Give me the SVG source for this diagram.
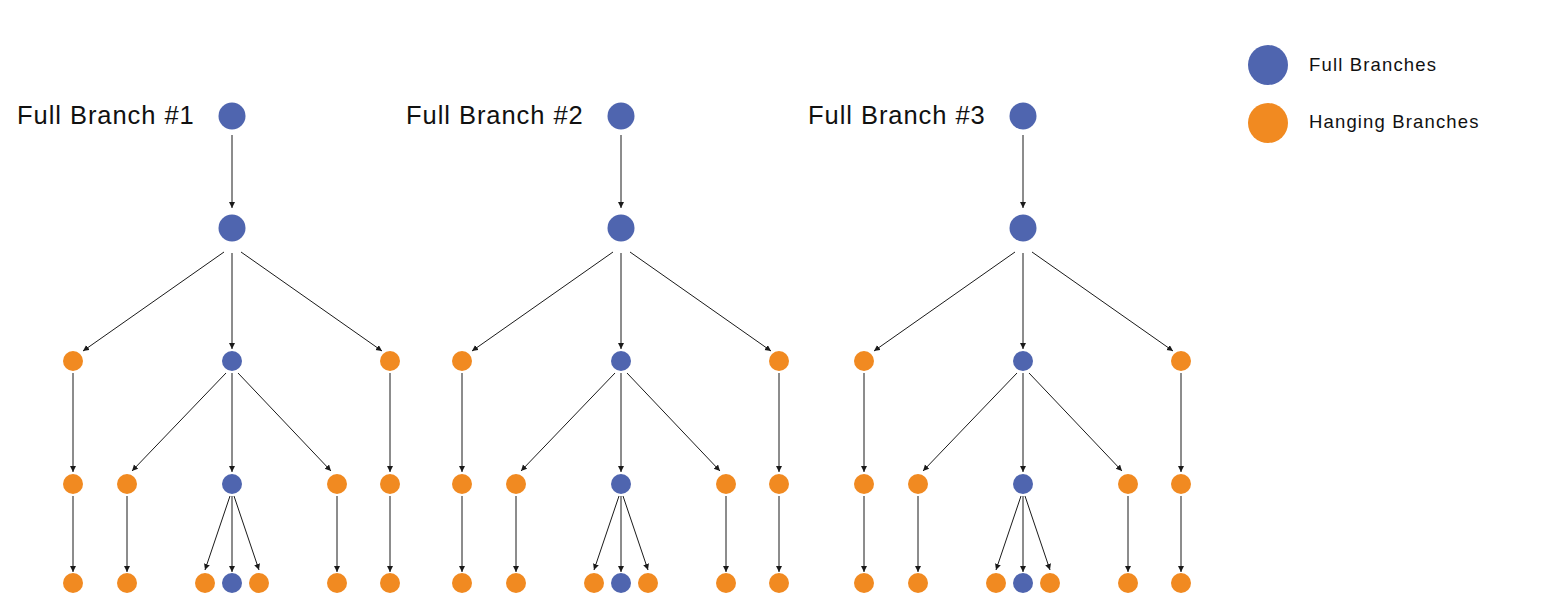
<svg xmlns="http://www.w3.org/2000/svg" xmlns:xlink="http://www.w3.org/1999/xlink" width="1556" height="612" viewBox="0 0 1556 612">
<style>
.full{fill:#4F65AF}
.hang{fill:#F18A21}
.edge{stroke:#1a1a1a;stroke-width:1;fill:none;marker-end:url(#ah)}
.title{font-family:"Liberation Sans",Arial,sans-serif;font-size:25.5px;fill:#111;letter-spacing:0.95px}
.leg{font-family:"Liberation Sans",Arial,sans-serif;font-size:18.5px;fill:#111;letter-spacing:1.15px}
</style>
<defs>
<marker id="ah" markerUnits="userSpaceOnUse" markerWidth="7" markerHeight="7" refX="6" refY="3" orient="auto">
<path d="M0,0 L6,3 L0,6 z" fill="#1a1a1a"/>
</marker>
</defs>
<rect width="1556" height="612" fill="#fff"/>

<g id="tree1">
<text class="title" x="17" y="124">Full Branch #1</text>
<g id="connectors1">
<path class="edge" d="M232,135 L232,208"/>
<path class="edge" d="M224,252 L83,351"/>
<path class="edge" d="M232,253 L232,349"/>
<path class="edge" d="M241,252 L382,351"/>
<path class="edge" d="M73,373 L73,472"/>
<path class="edge" d="M226,373 L132,471"/>
<path class="edge" d="M232,373 L232,472"/>
<path class="edge" d="M238,373 L331,471"/>
<path class="edge" d="M390,373 L390,472"/>
<path class="edge" d="M73,496 L73,572"/>
<path class="edge" d="M127,496 L127,572"/>
<path class="edge" d="M230,496 L205,570"/>
<path class="edge" d="M232,496 L232,572"/>
<path class="edge" d="M234,496 L259,570"/>
<path class="edge" d="M337,496 L337,572"/>
<path class="edge" d="M390,496 L390,572"/>
</g>
<g id="t1-root"><circle class="full" cx="232" cy="116" r="13.5"/></g>
<g id="t1-a"><circle class="full" cx="232" cy="228" r="13.5"/></g>
<g id="t1-b1"><circle class="hang" cx="73" cy="361" r="10"/></g>
<g id="t1-b2"><circle class="full" cx="232" cy="361" r="10"/></g>
<g id="t1-b3"><circle class="hang" cx="390" cy="361" r="10"/></g>
<g id="t1-c1"><circle class="hang" cx="73" cy="484" r="10"/></g>
<g id="t1-c2"><circle class="hang" cx="127" cy="484" r="10"/></g>
<g id="t1-c3"><circle class="full" cx="232" cy="484" r="10"/></g>
<g id="t1-c4"><circle class="hang" cx="337" cy="484" r="10"/></g>
<g id="t1-c5"><circle class="hang" cx="390" cy="484" r="10"/></g>
<g id="t1-d1"><circle class="hang" cx="73" cy="583" r="10"/></g>
<g id="t1-d2"><circle class="hang" cx="127" cy="583" r="10"/></g>
<g id="t1-d3"><circle class="hang" cx="205" cy="583" r="10"/></g>
<g id="t1-d4"><circle class="full" cx="232" cy="583" r="10"/></g>
<g id="t1-d5"><circle class="hang" cx="259" cy="583" r="10"/></g>
<g id="t1-d6"><circle class="hang" cx="337" cy="583" r="10"/></g>
<g id="t1-d7"><circle class="hang" cx="390" cy="583" r="10"/></g>
</g>

<g id="tree2" transform="translate(389,0)">
<text class="title" x="17" y="124">Full Branch #2</text>
<g id="connectors2">
<path class="edge" d="M232,135 L232,208"/>
<path class="edge" d="M224,252 L83,351"/>
<path class="edge" d="M232,253 L232,349"/>
<path class="edge" d="M241,252 L382,351"/>
<path class="edge" d="M73,373 L73,472"/>
<path class="edge" d="M226,373 L132,471"/>
<path class="edge" d="M232,373 L232,472"/>
<path class="edge" d="M238,373 L331,471"/>
<path class="edge" d="M390,373 L390,472"/>
<path class="edge" d="M73,496 L73,572"/>
<path class="edge" d="M127,496 L127,572"/>
<path class="edge" d="M230,496 L205,570"/>
<path class="edge" d="M232,496 L232,572"/>
<path class="edge" d="M234,496 L259,570"/>
<path class="edge" d="M337,496 L337,572"/>
<path class="edge" d="M390,496 L390,572"/>
</g>
<g id="t2-root"><circle class="full" cx="232" cy="116" r="13.5"/></g>
<g id="t2-a"><circle class="full" cx="232" cy="228" r="13.5"/></g>
<g id="t2-b1"><circle class="hang" cx="73" cy="361" r="10"/></g>
<g id="t2-b2"><circle class="full" cx="232" cy="361" r="10"/></g>
<g id="t2-b3"><circle class="hang" cx="390" cy="361" r="10"/></g>
<g id="t2-c1"><circle class="hang" cx="73" cy="484" r="10"/></g>
<g id="t2-c2"><circle class="hang" cx="127" cy="484" r="10"/></g>
<g id="t2-c3"><circle class="full" cx="232" cy="484" r="10"/></g>
<g id="t2-c4"><circle class="hang" cx="337" cy="484" r="10"/></g>
<g id="t2-c5"><circle class="hang" cx="390" cy="484" r="10"/></g>
<g id="t2-d1"><circle class="hang" cx="73" cy="583" r="10"/></g>
<g id="t2-d2"><circle class="hang" cx="127" cy="583" r="10"/></g>
<g id="t2-d3"><circle class="hang" cx="205" cy="583" r="10"/></g>
<g id="t2-d4"><circle class="full" cx="232" cy="583" r="10"/></g>
<g id="t2-d5"><circle class="hang" cx="259" cy="583" r="10"/></g>
<g id="t2-d6"><circle class="hang" cx="337" cy="583" r="10"/></g>
<g id="t2-d7"><circle class="hang" cx="390" cy="583" r="10"/></g>
</g>

<g id="tree3" transform="translate(791,0)">
<text class="title" x="17" y="124">Full Branch #3</text>
<g id="connectors3">
<path class="edge" d="M232,135 L232,208"/>
<path class="edge" d="M224,252 L83,351"/>
<path class="edge" d="M232,253 L232,349"/>
<path class="edge" d="M241,252 L382,351"/>
<path class="edge" d="M73,373 L73,472"/>
<path class="edge" d="M226,373 L132,471"/>
<path class="edge" d="M232,373 L232,472"/>
<path class="edge" d="M238,373 L331,471"/>
<path class="edge" d="M390,373 L390,472"/>
<path class="edge" d="M73,496 L73,572"/>
<path class="edge" d="M127,496 L127,572"/>
<path class="edge" d="M230,496 L205,570"/>
<path class="edge" d="M232,496 L232,572"/>
<path class="edge" d="M234,496 L259,570"/>
<path class="edge" d="M337,496 L337,572"/>
<path class="edge" d="M390,496 L390,572"/>
</g>
<g id="t3-root"><circle class="full" cx="232" cy="116" r="13.5"/></g>
<g id="t3-a"><circle class="full" cx="232" cy="228" r="13.5"/></g>
<g id="t3-b1"><circle class="hang" cx="73" cy="361" r="10"/></g>
<g id="t3-b2"><circle class="full" cx="232" cy="361" r="10"/></g>
<g id="t3-b3"><circle class="hang" cx="390" cy="361" r="10"/></g>
<g id="t3-c1"><circle class="hang" cx="73" cy="484" r="10"/></g>
<g id="t3-c2"><circle class="hang" cx="127" cy="484" r="10"/></g>
<g id="t3-c3"><circle class="full" cx="232" cy="484" r="10"/></g>
<g id="t3-c4"><circle class="hang" cx="337" cy="484" r="10"/></g>
<g id="t3-c5"><circle class="hang" cx="390" cy="484" r="10"/></g>
<g id="t3-d1"><circle class="hang" cx="73" cy="583" r="10"/></g>
<g id="t3-d2"><circle class="hang" cx="127" cy="583" r="10"/></g>
<g id="t3-d3"><circle class="hang" cx="205" cy="583" r="10"/></g>
<g id="t3-d4"><circle class="full" cx="232" cy="583" r="10"/></g>
<g id="t3-d5"><circle class="hang" cx="259" cy="583" r="10"/></g>
<g id="t3-d6"><circle class="hang" cx="337" cy="583" r="10"/></g>
<g id="t3-d7"><circle class="hang" cx="390" cy="583" r="10"/></g>
</g>

<g id="legend">
<g id="legend-full"><circle class="full" cx="1268" cy="65" r="20"/><text class="leg" x="1309" y="71">Full Branches</text></g>
<g id="legend-hanging"><circle class="hang" cx="1268" cy="123" r="20"/><text class="leg" x="1309" y="128">Hanging Branches</text></g>
</g>
</svg>
